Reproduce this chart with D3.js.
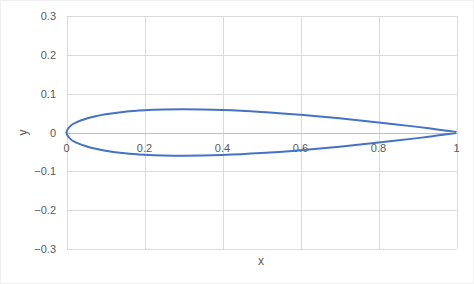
<!DOCTYPE html>
<html>
<head>
<meta charset="utf-8">
<script src="https://cdn.jsdelivr.net/npm/d3@7"></script>
<style>
  body { margin: 0; background: #fff; }
  text { font-family: "Liberation Sans", Arial, sans-serif; fill: #595959; }
</style>
</head>
<body>
<div id="chart"></div>
<script>
// airfoil coordinates (trailing edge -> leading edge -> trailing edge)
var upperX = [1, 0.95, 0.9, 0.8, 0.7, 0.6, 0.5, 0.4, 0.3, 0.25, 0.2, 0.15, 0.1, 0.075, 0.05, 0.025, 0.0125, 0];
var upperY = [0.0013, 0.008, 0.0145, 0.026, 0.0366, 0.0456, 0.053, 0.058, 0.06, 0.0594, 0.0574, 0.0535, 0.0468, 0.042, 0.0356, 0.0262, 0.019, 0];
var lowerX = [0, 0.0125, 0.025, 0.05, 0.075, 0.1, 0.15, 0.2, 0.25, 0.3, 0.4, 0.5, 0.6, 0.7, 0.8, 0.9, 0.95, 1];
var lowerY = [0, -0.019, -0.0262, -0.0356, -0.042, -0.0468, -0.0535, -0.0574, -0.0594, -0.06, -0.058, -0.053, -0.0456, -0.0366, -0.026, -0.0145, -0.008, -0.0013];
var xTicks = [0, 0.2, 0.4, 0.6, 0.8, 1];
var yTicks = [-0.3, -0.2, -0.1, 0, 0.1, 0.2, 0.3];

var width = 474,
    height = 284;

var x = d3.scaleLinear().domain([0, 1]).range([66.5, 456.5]);
var y = d3.scaleLinear().domain([-0.3, 0.3]).range([249, 16]);

var svg = d3.select('#chart')
  .append('svg')
  .attr('width', width)
  .attr('height', height);

svg.append('rect')
  .attr('x', 0.5).attr('y', 0.5)
  .attr('width', width - 1).attr('height', height - 1)
  .attr('fill', '#fff')
  .attr('stroke', '#f0f0f0');

// gridlines
svg.append('g').selectAll('line')
  .data(yTicks)
  .enter().append('line')
  .attr('x1', x(0)).attr('x2', x(1))
  .attr('y1', function(d) { return Math.round(y(d)) + 0.5; })
  .attr('y2', function(d) { return Math.round(y(d)) + 0.5; })
  .attr('stroke', '#d9d9d9');

svg.append('g').selectAll('line')
  .data(xTicks)
  .enter().append('line')
  .attr('y1', y(-0.3)).attr('y2', y(0.3))
  .attr('x1', function(d) { return Math.round(x(d)) + 0.5; })
  .attr('x2', function(d) { return Math.round(x(d)) + 0.5; })
  .attr('stroke', '#d9d9d9');

// y=0 axis line
svg.append('line')
  .attr('x1', x(0)).attr('x2', x(1))
  .attr('y1', Math.round(y(0)) + 0.5).attr('y2', Math.round(y(0)) + 0.5)
  .attr('stroke', '#bfbfbf');

// tick labels
svg.append('g').selectAll('text')
  .data(yTicks)
  .enter().append('text')
  .attr('x', 56)
  .attr('y', function(d) { return y(d) + 4; })
  .attr('text-anchor', 'end')
  .attr('font-size', 11)
  .text(function(d) { return d3.format('')(d); });

svg.append('g').selectAll('text')
  .data(xTicks)
  .enter().append('text')
  .attr('x', function(d) { return x(d); })
  .attr('y', y(0) + 19)
  .attr('text-anchor', 'middle')
  .attr('font-size', 11)
  .text(function(d) { return d3.format('')(d); });

// axis titles
svg.append('text')
  .attr('x', 261).attr('y', 265)
  .attr('text-anchor', 'middle')
  .attr('font-size', 12)
  .text('x');

svg.append('text')
  .attr('transform', 'translate(27,' + y(0) + ') rotate(-90)')
  .attr('text-anchor', 'middle')
  .attr('font-size', 12)
  .text('y');

// airfoil
var pts = [];
upperX.forEach(function(d, i) { pts.push([d, upperY[i]]); });
lowerX.forEach(function(d, i) { if (i > 0) pts.push([d, lowerY[i]]); });

var line = d3.line()
  .x(function(d) { return x(d[0]); })
  .y(function(d) { return y(d[1]); })
  .curve(d3.curveCatmullRom.alpha(0.5));

svg.append('path')
  .datum(pts)
  .attr('d', line)
  .attr('fill', 'none')
  .attr('stroke', '#4472c4')
  .attr('stroke-width', 2)
  .attr('stroke-linejoin', 'round');
</script>
</body>
</html>
